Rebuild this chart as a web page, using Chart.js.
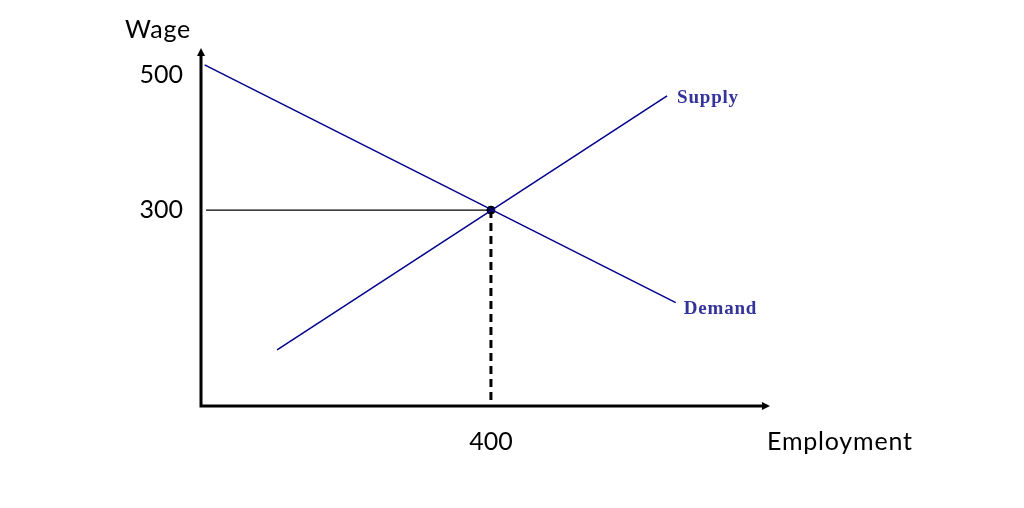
<!DOCTYPE html>
<html>
<head>
<meta charset="utf-8">
<script src="https://cdn.jsdelivr.net/npm/chart.js@4"></script>
<style>
  html, body { margin: 0; padding: 0; background: #fff; }
  #wrap { width: 1024px; height: 508px; }
</style>
</head>
<body>
<div id="wrap"><canvas id="chart"></canvas></div>
<script>
// values
const demandX = [5, 655]
const demandY = [515, 163]
const supplyX = [105, 643]
const supplyY = [93, 469]
const eqEmployment = 400
const eqWage = 300
const wageTicks = [300, 500]
const employmentTicks = [400]
const curveNames = ["Supply", "Demand"]
const axisTitles = ["Wage", "Employment"]

const navy = "#00008b"
const labelBlue = "#333399"
const bodyFont = "Lato, 'Open Sans', sans-serif"

const toPoints = (xs, ys) => xs.map((x, i) => ({ x: x, y: ys[i] }))

const axesPlugin = {
  id: "econAxes",
  afterDraw(chart) {
    const ctx = chart.ctx
    const x = chart.scales.x
    const y = chart.scales.y
    const ox = x.getPixelForValue(x.min)
    const oy = y.getPixelForValue(y.min)
    const xEnd = x.getPixelForValue(x.max)
    const yEnd = y.getPixelForValue(y.max)
    ctx.save()
    ctx.strokeStyle = "#000"
    ctx.fillStyle = "#000"
    ctx.lineWidth = 3
    ctx.beginPath()
    ctx.moveTo(ox, yEnd + 6)
    ctx.lineTo(ox, oy)
    ctx.lineTo(xEnd - 6, oy)
    ctx.stroke()
    // arrow heads
    ctx.beginPath()
    ctx.moveTo(ox, yEnd)
    ctx.lineTo(ox - 4, yEnd + 8)
    ctx.lineTo(ox + 4, yEnd + 8)
    ctx.closePath()
    ctx.fill()
    ctx.beginPath()
    ctx.moveTo(xEnd, oy)
    ctx.lineTo(xEnd - 8, oy - 4)
    ctx.lineTo(xEnd - 8, oy + 4)
    ctx.closePath()
    ctx.fill()

    // tick labels
    ctx.font = "25px " + bodyFont
    ctx.textBaseline = "middle"
    ctx.textAlign = "right"
    wageTicks.forEach(v => ctx.fillText(String(v), ox - 18, y.getPixelForValue(v)))
    ctx.textAlign = "center"
    employmentTicks.forEach(v => ctx.fillText(String(v), x.getPixelForValue(v), oy + 36))

    // axis titles
    ctx.letterSpacing = "0.8px"
    ctx.fillText(axisTitles[0], 158, 30)
    ctx.textAlign = "left"
    ctx.fillText(axisTitles[1], 767, oy + 36)

    // curve names
    ctx.font = "bold 19px 'Liberation Serif', 'DejaVu Serif', serif"
    ctx.letterSpacing = "0.8px"
    ctx.fillStyle = labelBlue
    const sEnd = supplyX.length - 1
    ctx.fillText(curveNames[0], x.getPixelForValue(supplyX[sEnd]) + 10, y.getPixelForValue(supplyY[sEnd]) + 2)
    const dEnd = demandX.length - 1
    ctx.fillText(curveNames[1], x.getPixelForValue(demandX[dEnd]) + 8, y.getPixelForValue(demandY[dEnd]) + 6)
    ctx.letterSpacing = "0px"
    ctx.restore()
  }
}

new Chart(document.getElementById("chart"), {
  type: "scatter",
  data: {
    datasets: [
      {
        label: "Demand",
        data: toPoints(demandX, demandY),
        showLine: true,
        borderColor: navy,
        borderWidth: 1.5,
        pointRadius: 0,
      },
      {
        label: "Supply",
        data: toPoints(supplyX, supplyY),
        showLine: true,
        borderColor: navy,
        borderWidth: 1.5,
        pointRadius: 0,
      },
      {
        label: "wage guide",
        data: [{ x: 7, y: eqWage }, { x: eqEmployment, y: eqWage }],
        showLine: true,
        borderColor: "#000",
        borderWidth: 1.2,
        pointRadius: 0,
      },
      {
        label: "employment guide",
        data: [{ x: eqEmployment, y: eqWage }, { x: eqEmployment, y: 10 }],
        showLine: true,
        borderColor: "#000",
        borderWidth: 3,
        borderDash: [8, 5],
        pointRadius: 0,
      },
      {
        label: "equilibrium",
        data: [{ x: eqEmployment, y: eqWage }],
        pointRadius: 4,
        pointBackgroundColor: "#000",
        pointBorderColor: "#000",
      },
    ],
  },
  options: {
    responsive: true,
    maintainAspectRatio: false,
    animation: false,
    layout: { padding: { left: 201, right: 254, top: 48, bottom: 102 } },
    plugins: {
      legend: { display: false },
      tooltip: { enabled: false },
    },
    scales: {
      x: { type: "linear", min: 0, max: 785, display: false },
      y: { type: "linear", min: 10, max: 540, display: false },
    },
  },
  plugins: [axesPlugin],
})
</script>
</body>
</html>
